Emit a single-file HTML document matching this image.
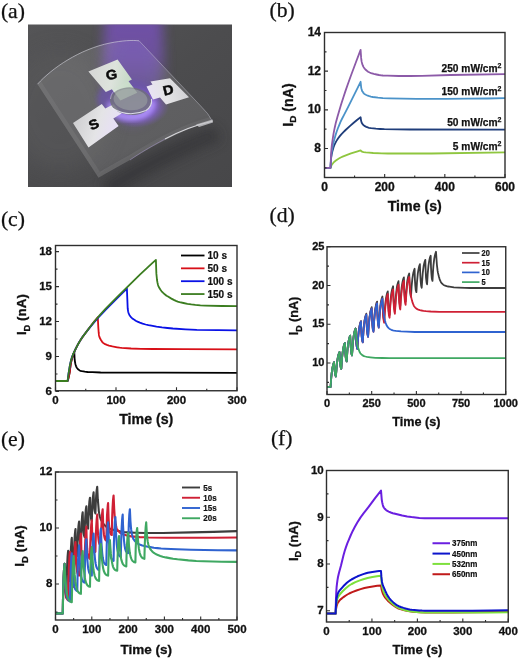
<!DOCTYPE html>
<html lang="en"><head><meta charset="utf-8"><title>Figure</title>
<style>html,body{margin:0;padding:0;background:#fff}body{width:520px;height:660px;overflow:hidden}svg{display:block}</style>
</head><body>
<svg width="520" height="660" viewBox="0 0 520 660">
<rect width="520" height="660" fill="#fff"/>
<defs>
<clipPath id="aclip"><rect x="28.0" y="24.5" width="204.0" height="162.5"/></clipPath>
<filter id="b1" x="-20%" y="-20%" width="140%" height="140%"><feGaussianBlur stdDeviation="1"/></filter>
<filter id="b2" x="-30%" y="-30%" width="160%" height="160%"><feGaussianBlur stdDeviation="2.5"/></filter>
<filter id="b5" x="-50%" y="-50%" width="200%" height="200%"><feGaussianBlur stdDeviation="6"/></filter>
<filter id="b9" x="-50%" y="-50%" width="200%" height="200%"><feGaussianBlur stdDeviation="10"/></filter>
<linearGradient id="abg" x1="0" y1="0" x2="1" y2="1"><stop offset="0" stop-color="#555557"/><stop offset="0.5" stop-color="#4c4c4e"/><stop offset="1" stop-color="#474749"/></linearGradient>
<linearGradient id="beamv" x1="0" y1="0" x2="0" y2="1"><stop offset="0" stop-color="#7b4fc6" stop-opacity="0.95"/><stop offset="0.55" stop-color="#7b55be" stop-opacity="0.85"/><stop offset="1" stop-color="#7b55be" stop-opacity="0"/></linearGradient>
<radialGradient id="glow" cx="0.5" cy="0.5" r="0.5"><stop offset="0" stop-color="#a884ff" stop-opacity="1"/><stop offset="0.55" stop-color="#8a63dc" stop-opacity="0.85"/><stop offset="1" stop-color="#7a58c0" stop-opacity="0"/></radialGradient>
<linearGradient id="padg" x1="0" y1="0" x2="1" y2="1"><stop offset="0" stop-color="#e4e6e2"/><stop offset="1" stop-color="#c9ccd0"/></linearGradient>
<linearGradient id="padG" x1="0" y1="0.3" x2="1" y2="0.5"><stop offset="0" stop-color="#d6d6d6"/><stop offset="0.5" stop-color="#dde3dc"/><stop offset="1" stop-color="#bcd6bd"/></linearGradient>
<linearGradient id="padS" x1="0" y1="0.2" x2="1" y2="0.5"><stop offset="0" stop-color="#cbcbcd"/><stop offset="0.55" stop-color="#e4e4e6"/><stop offset="1" stop-color="#e8defa"/></linearGradient>
<linearGradient id="padD" x1="0" y1="0.5" x2="1" y2="0.3"><stop offset="0" stop-color="#e9e2f6"/><stop offset="0.4" stop-color="#e4e4e6"/><stop offset="1" stop-color="#cfcfd3"/></linearGradient>
<clipPath id="sheetclip"><path d="M37.5,84.2 C52,68 80,49 110,43 C122,40.6 132,40 139.1,40.8 L200.7,106 Q209,114 212.4,121.2 C190,127 160,141 130,160 Q112,170 98.5,177.7 Z"/></clipPath>
</defs>
<g clip-path="url(#aclip)">
<rect x="28" y="24" width="205" height="164" fill="url(#abg)"/>
<ellipse cx="60" cy="110" rx="50" ry="60" fill="#5a5a5c" opacity="0.55" filter="url(#b9)"/>
<path d="M100,182 Q150,150 214,126 L222,140 Q160,165 110,200 Z" fill="#333335" opacity="0.65" filter="url(#b5)"/>
<path d="M105,16 H162 L166,90 H101 Z" fill="url(#beamv)" opacity="0.8" filter="url(#b5)"/>
<path d="M37.5,84.2 C52,68 80,49 110,43 C122,40.6 132,40 139.1,40.8 L200.7,106 Q209,114 212.4,121.2 C190,127 160,141 130,160 Q112,170 98.5,177.7 Z" fill="#ffffff" fill-opacity="0.115"/>
<g clip-path="url(#sheetclip)">
<ellipse cx="133" cy="78" rx="26" ry="46" fill="#7458b4" opacity="0.6" filter="url(#b5)"/>
<ellipse cx="127" cy="99" rx="30" ry="20" fill="#6c54ac" opacity="0.75" filter="url(#b2)"/>
<ellipse cx="136" cy="106.5" rx="33" ry="21" fill="url(#glow)"/>
<path d="M37.5,84.2 L98.5,177.7 Q112,170 130,160 C160,141 190,127 212.4,121.2" fill="none" stroke="#ffffff" stroke-opacity="0.06" stroke-width="9"/>
</g>
<path d="M37.5,84.2 C52,68 80,49 110,43 C122,40.6 132,40 139.1,40.8" fill="none" stroke="#d8d8e0" stroke-opacity="0.75" stroke-width="0.8"/>
<path d="M139.1,40.8 L200.7,106 Q209,114 212.4,121.2" fill="none" stroke="#d0d0dc" stroke-opacity="0.6" stroke-width="0.7"/>
<path d="M212.4,121.2 C195,125 180,131 165,139" fill="none" stroke="#ededf2" stroke-opacity="0.85" stroke-width="1.1"/>
<path d="M165,139 C150,147 140,153 130,160" fill="none" stroke="#b9a6e6" stroke-opacity="0.5" stroke-width="0.8"/>
<path d="M196,124.5 L212.6,119.5 L213,122.5 L199,127 Z" fill="#c8c8cc" opacity="0.8"/>
<path d="M109.5,103 Q113,118 132,117.5 Q151,116 153,101" fill="none" stroke="#b9a0ff" stroke-opacity="0.9" stroke-width="5" filter="url(#b2)"/>
<path d="M88.4,71.6 L117.6,59.6 L131.9,79.6 L128.5,81.2 L137.3,92.7 L120.4,100.4 L111.9,89.2 L105.8,91.9 Z" fill="url(#padG)"/>
<path d="M146.5,86.5 L152.5,84.5 L150.5,81.5 L170,78.2 L189,97.2 L166,104.5 L160,97.5 L153,99.5 Z" fill="url(#padD)"/>
<path d="M73,123 L101.8,104 L105.3,108.5 L113.5,104.2 L121.5,113.5 L113.3,118.6 L118.6,126 L88.5,147.5 Z" fill="url(#padS)"/>
<ellipse cx="130.8" cy="101.2" rx="20.8" ry="13.8" fill="#6f6f7a" fill-opacity="0.85" transform="rotate(4 130.8 101.2)"/>
<ellipse cx="130.5" cy="99.5" rx="17" ry="10.8" fill="#959a9e" fill-opacity="0.7" transform="rotate(4 130.5 99.5)"/>
<path d="M112,108 Q128,118 146,110.5 Q152.5,106 151.5,99" fill="none" stroke="#ececf4" stroke-opacity="0.85" stroke-width="1.1"/>
<path d="M110.5,99 Q111,92 117,89" fill="none" stroke="#e6e6f0" stroke-opacity="0.6" stroke-width="0.8"/>
<path d="M128.5,81.2 L137.3,92.7 L120.4,100.4 L111.9,89.2 Z" fill="#cfe4cf" opacity="0.3"/>
<g font-family='"Liberation Sans", Arial, sans-serif' font-weight="bold" font-size="13.5" fill="#0a0a0a" stroke="#0a0a0a" stroke-width="0.5" text-anchor="middle">
<text transform="translate(112,79.2) rotate(-8) scale(1.08,1)">G</text>
<text transform="translate(169.3,94.6) rotate(-14) scale(1.08,1)">D</text>
<text transform="translate(95.8,128.6) rotate(-24) scale(1.08,1)">S</text>
</g>
</g>
<path d="M324.5,167.8 330.5,167.8 331.1,166.3 331.5,165.4 332.3,164.1 333.2,163 334.4,161.7 335.9,160.5 337.4,159.4 338.9,158.5 340.7,157.5 342.6,156.7 347.1,154.9 351,153.4 354.3,152.3 357.6,151.3 360.6,150.4 361.4,151.3 361.7,151.5 362,151.7 363.5,152.1 365.7,152.4 369,152.7 373.2,153 381.7,153.3 388,153.5 421.7,153.5 431.6,153.5 505,152.4" fill="none" stroke="#8fc63f" stroke-width="1.8" stroke-linejoin="round" />
<path d="M324.5,167.8 330.5,167.8 330.9,161.2 331.1,158.2 331.7,154.4 332.4,151.2 333.5,147.5 334.1,145.7 334.7,144.3 336.2,141.4 337.1,139.9 338,138.5 339.8,136.1 341.3,134.3 343.2,132.4 345.6,130 350.4,125.6 353.7,122.7 357.3,119.7 360.6,117.2 361.1,120.8 361.7,122.7 362.2,123.6 362.6,124.2 363.3,125 364,125.6 364.9,126.2 366.3,126.8 367.8,127.4 369,127.8 371.1,128.2 375.9,128.7 380.2,129 384.4,129.2 397.3,129.4 409.9,129.5 505,129.6" fill="none" stroke="#1f3d7a" stroke-width="1.8" stroke-linejoin="round" />
<path d="M324.5,167.8 330.5,167.8 330.9,160.7 331.1,157.2 331.5,153.4 332,150.2 333,144.8 334.1,140.2 335.3,135.9 336.8,131.3 338,128 339.2,125.1 340.4,122.2 341.9,119 343.8,115.3 348.3,106.6 360.6,81.8 361.1,86.8 361.3,88.2 361.7,89.6 362,90.7 362.5,91.6 363.2,92.6 364,93.6 364.9,94.3 366.3,95 367.8,95.7 369.3,96.2 370.8,96.6 372.9,97 378,97.7 382.9,98.2 389.5,98.4 403,98.7 416.6,98.8 445.7,98.8 468,98.7 487.3,98.5 505,98.2" fill="none" stroke="#4b93c9" stroke-width="1.8" stroke-linejoin="round" />
<path d="M324.5,167.8 330.5,167.8 331.1,154.3 331.4,149.5 331.8,145.4 332.7,139.2 333.5,133.9 334.7,127.7 335.9,122.4 337.4,116.9 341,104.8 343.5,97 345.6,90.6 348,83.8 350.7,76.3 356.1,61.7 360.6,49.9 361.1,57.4 361.3,59.5 361.7,61.9 362.2,63.9 362.8,65.5 363.6,67.1 364.4,68.4 365.4,69.5 366.9,70.8 368.1,71.7 369.6,72.5 371.1,73.1 373.8,73.9 376.5,74.5 379,75 381.1,75.3 382.9,75.5 387.4,75.7 398.8,76 409.9,76 422,75.8 450.2,75 505,74.1" fill="none" stroke="#8c5aa8" stroke-width="1.8" stroke-linejoin="round" />
<path d="M324.5,177.5 v-3.5 M384.67,177.5 v-3.5 M444.83,177.5 v-3.5 M505,177.5 v-3.5 M354.58,177.5 v-2 M414.75,177.5 v-2 M474.92,177.5 v-2 M324.5,148.5 h3.5 M324.5,109.83 h3.5 M324.5,71.17 h3.5 M324.5,32.5 h3.5 M324.5,167.83 h2 M324.5,129.17 h2 M324.5,90.5 h2 M324.5,51.83 h2" stroke="#2e2e2e" stroke-width="1.1" fill="none"/>
<rect x="324.5" y="32.5" width="180.5" height="145" fill="none" stroke="#2e2e2e" stroke-width="1.4"/>
<g font-family='"Liberation Sans", Arial, sans-serif' font-weight="bold" font-size="12" fill="#111" stroke="#111" stroke-width="0.3">
<text x="324.5" y="191" text-anchor="middle">0</text>
<text x="384.67" y="191" text-anchor="middle">200</text>
<text x="444.83" y="191" text-anchor="middle">400</text>
<text x="505" y="191" text-anchor="middle">600</text>
<text x="321" y="151.98" text-anchor="end">8</text>
<text x="321" y="113.31" text-anchor="end">10</text>
<text x="321" y="74.65" text-anchor="end">12</text>
<text x="321" y="35.98" text-anchor="end">14</text>
</g>
<text x="414.75" y="211" text-anchor="middle" font-family='"Liberation Sans", Arial, sans-serif' font-weight="bold" font-size="14.2" fill="#111" stroke="#111" stroke-width="0.3">Time (s)</text>
<text transform="translate(292.5,105) rotate(-90)" text-anchor="middle" font-family='"Liberation Sans", Arial, sans-serif' font-weight="bold" font-size="14.2" fill="#111" stroke="#111" stroke-width="0.3">I<tspan font-size="9.94" dy="3.5">D</tspan><tspan dy="-3.5"> (nA)</tspan></text>
<g font-family='"Liberation Sans", Arial, sans-serif' font-weight="bold" font-size="10.2" fill="#111" stroke="#111" stroke-width="0.25" text-anchor="end">
<text x="501.5" y="71.5">250 mW/cm<tspan font-size="7" dy="-4">2</tspan></text>
<text x="501.5" y="95">150 mW/cm<tspan font-size="7" dy="-4">2</tspan></text>
<text x="501.5" y="126">50 mW/cm<tspan font-size="7" dy="-4">2</tspan></text>
<text x="501.5" y="150">5 mW/cm<tspan font-size="7" dy="-4">2</tspan></text>
</g>
<path d="M55.5,381 67.6,381 68,380 68.3,378.7 69.3,374.3 69.7,372.1 70.6,364.9 71.5,360.4 72.1,358.2 72.7,356.2 73.4,354.1 74.3,352 74.6,358.6 75,361.8 75.3,363.5 75.6,364.7 76.1,366.3 76.7,367.5 77.2,368.2 78,369.2 78.9,369.9 79.7,370.5 80.5,370.8 82.1,371.2 84.8,371.7 87.6,372 92.4,372.2 100.6,372.5 162.6,372.7 237,372.8" fill="none" stroke="#000000" stroke-width="1.8" stroke-linejoin="round" />
<path d="M55.5,381 67.6,381 68,380 68.3,378.7 69.3,374.3 69.7,372.1 70.6,364.9 71.2,361.8 71.8,359.2 72.6,356.6 73.3,354.3 74.5,351.5 75.8,348.7 77.3,345.6 79,342.6 80.6,339.9 82.4,337.2 87,331 90.6,326.2 94.2,321.6 97.8,317.3 98.3,327.4 98.7,332.7 98.9,334.7 99.1,335.7 99.5,337.2 100,338.3 101.1,340.2 102,341.6 102.8,342.6 103.7,343.3 105.1,344.2 106.9,344.9 109,345.6 112.4,346.4 117.2,347.3 119.6,347.7 121.7,347.9 131.1,348.5 140.8,348.8 152.6,349 182.6,349.2 237,349.3" fill="none" stroke="#d81018" stroke-width="1.8" stroke-linejoin="round" />
<path d="M55.5,381 67.6,381 68.4,374.4 69.7,366.6 70.5,362.5 71.6,358.4 72.2,356.6 72.9,354.8 75.6,349 78.1,344.1 79.3,342 80.6,339.9 82.1,337.6 83.6,335.5 88.5,329.1 93,323.6 98.2,317.7 101.8,313.8 106.3,309.1 117.5,297.8 126.9,288.5 127.3,298.6 127.7,308.5 127.9,309.8 128.1,311.2 128.4,312.5 128.7,313.4 129.4,314.9 130.3,316.3 131.2,317.4 132.3,318.4 134,319.6 135.7,320.7 137.5,321.6 139.9,322.6 142.6,323.6 145.6,324.5 148.4,325.2 151.4,325.7 156.5,326.6 162,327.4 167.4,328 172.9,328.5 185.6,329.3 196.8,329.8 218.5,330.2 237,330.3" fill="none" stroke="#0a12e6" stroke-width="1.8" stroke-linejoin="round" />
<path d="M55.5,381 67.6,381 68.5,374 69.8,365.9 70.9,361 71.5,358.8 72.1,357 73,354.5 74.6,351.1 76.3,347.6 77.9,344.5 79.2,342.2 80.6,339.9 82.1,337.6 83.9,335.1 90,327 95.1,320.5 100,314.8 105.7,308.6 117.8,296.3 135.1,279.3 139.9,274.7 146.9,268.1 151.7,263.7 155.9,259.9 156.3,271.6 156.4,273.9 156.7,276.8 157,280 157.4,282.2 157.9,284.5 158.5,286.4 159.4,288.1 160.5,289.8 161.6,291.3 163.2,292.9 164.7,294.3 166.5,295.7 168,296.6 171.4,298.6 173.8,299.9 175.9,300.9 177.7,301.6 179.5,302.2 183.5,303 187.4,303.8 191.3,304.4 195.3,304.9 200.4,305.4 205.2,305.6 221.9,306 237,306.1" fill="none" stroke="#3b7d20" stroke-width="1.8" stroke-linejoin="round" />
<path d="M55.5,390.75 v-3.5 M116,390.75 v-3.5 M176.5,390.75 v-3.5 M237,390.75 v-3.5 M85.75,390.75 v-2 M146.25,390.75 v-2 M206.75,390.75 v-2 M55.5,391.45 h3.5 M55.5,356.51 h3.5 M55.5,321.56 h3.5 M55.5,286.62 h3.5 M55.5,251.67 h3.5 M55.5,373.98 h2 M55.5,339.03 h2 M55.5,304.09 h2 M55.5,269.15 h2" stroke="#2e2e2e" stroke-width="1.1" fill="none"/>
<rect x="55.5" y="245.5" width="181.5" height="145.25" fill="none" stroke="#2e2e2e" stroke-width="1.4"/>
<g font-family='"Liberation Sans", Arial, sans-serif' font-weight="bold" font-size="11.5" fill="#111" stroke="#111" stroke-width="0.3">
<text x="55.5" y="404.25" text-anchor="middle">0</text>
<text x="116" y="404.25" text-anchor="middle">100</text>
<text x="176.5" y="404.25" text-anchor="middle">200</text>
<text x="237" y="404.25" text-anchor="middle">300</text>
<text x="52" y="394.78" text-anchor="end">6</text>
<text x="52" y="359.84" text-anchor="end">9</text>
<text x="52" y="324.9" text-anchor="end">12</text>
<text x="52" y="289.95" text-anchor="end">15</text>
<text x="52" y="255.01" text-anchor="end">18</text>
</g>
<text x="146.25" y="423.75" text-anchor="middle" font-family='"Liberation Sans", Arial, sans-serif' font-weight="bold" font-size="14.2" fill="#111" stroke="#111" stroke-width="0.3">Time (s)</text>
<text transform="translate(26,314.62) rotate(-90)" text-anchor="middle" font-family='"Liberation Sans", Arial, sans-serif' font-weight="bold" font-size="13.4" fill="#111" stroke="#111" stroke-width="0.3">I<tspan font-size="9.38" dy="3.5">D</tspan><tspan dy="-3.5"> (nA)</tspan></text>
<g font-family='"Liberation Sans", Arial, sans-serif' font-weight="bold" font-size="10" fill="#111" stroke="#111" stroke-width="0.2">
<path d="M181,255.5 H204.5" stroke="#000" stroke-width="1.8"/>
<text x="207.5" y="259">10 s</text>
<path d="M181,268.35 H204.5" stroke="#d81018" stroke-width="1.8"/>
<text x="207.5" y="271.85">50 s</text>
<path d="M181,281.2 H204.5" stroke="#0a12e6" stroke-width="1.8"/>
<text x="207.5" y="284.7">100 s</text>
<path d="M181,294.05 H204.5" stroke="#3b7d20" stroke-width="1.8"/>
<text x="207.5" y="297.55">150 s</text>
</g>
<path d="M327,386.9 330.6,386.9 331.2,378 331.6,374.2 332,370.6 332.5,367.8 333,365.4 333.5,363.6 334.1,362.2 334.5,368.8 334.9,372.5 335.3,375 335.6,375.8 335.9,376.5 336.6,367.6 336.9,363.9 337.4,360.3 337.8,357.6 338.4,355.1 338.9,353.4 339.5,352 339.9,359.8 340.2,364.1 340.7,367.1 340.9,368 341.3,368.8 341.9,359.5 342.3,355.6 342.7,351.8 343.2,348.9 343.7,346.3 344.2,344.5 344.9,343 345.2,351.5 345.6,356.3 346,359.5 346.3,360.6 346.7,361.4 347.3,352.2 347.6,348.3 348.1,344.5 348.5,341.6 349.1,339 349.6,337.2 350.2,335.7 350.6,344.8 351,349.9 351.4,353.3 351.7,354.5 352,355.4 352.7,345.7 353,341.6 353.5,337.6 353.9,334.6 354.4,332 355,330.1 355.6,328.5 356,338 356.3,343.4 356.8,346.9 357,348.1 357.4,349 358,339 358.4,334.7 358.8,330.6 359.3,327.5 359.8,324.7 360.3,322.7 361,321.1 361.3,330.7 361.7,336.1 362.1,339.7 362.4,340.9 362.8,341.9 363.4,331.7 363.7,327.4 364.2,323.3 364.6,320.1 365.2,317.3 365.7,315.3 366.3,313.7 366.7,324 367,329.8 367.5,333.7 367.8,335 368.1,336 368.7,325.6 369.1,321.2 369.5,317 370,313.8 370.5,310.9 371.1,308.9 371.7,307.2 372,317.9 372.4,324 372.8,328 373.1,329.4 373.5,330.5 374.1,320 374.5,315.7 374.9,311.4 375.4,308.2 375.9,305.3 376.4,303.2 377.1,301.6 377.4,312.9 377.8,319.2 378.2,323.4 378.5,324.8 378.8,326 379.5,315.3 379.8,310.9 380.3,306.5 380.7,303.2 381.3,300.3 381.8,298.2 382.4,296.5 382.8,307.6 383.1,313.9 383.6,318 383.8,319.4 384.2,320.5 384.8,310 385.2,305.6 385.6,301.3 386.1,298 386.6,295.2 387.1,293.1 387.8,291.4 388.1,302.3 388.5,308.5 388.9,312.6 389.2,313.9 389.6,315 390.2,304.7 390.5,300.3 391,296.1 391.4,292.9 392,290 392.5,288 393.1,286.3 393.5,297.6 393.9,304 394.3,308.2 394.6,309.6 394.9,310.7 395.6,300.1 395.9,295.6 396.4,291.3 396.8,288 397.3,285 397.9,282.9 398.5,281.2 398.9,292.7 399.2,299.2 399.7,303.4 399.9,304.9 400.3,306 400.9,295.7 401.3,291.3 401.7,287.1 402.2,283.9 402.7,281.1 403.2,279 403.9,277.4 404.2,288.5 404.6,294.7 405,298.9 405.3,300.3 405.6,301.4 406.3,291.3 407,283.7 407.3,281 407.8,278.3 408.3,276 408.9,274.3 409.2,273.5 409.6,284.2 410,291.3 410.5,294.8 410.7,296 411,296.7 411.6,286.7 412,282.4 412.4,278.3 412.9,275.2 413.4,272.4 414,270.4 414.6,268.8 414.9,279.6 415.3,285.6 415.7,289.7 416,291 416.4,292.1 417,282 417.4,277.8 417.8,273.7 418.3,270.5 418.8,267.8 419.3,265.8 419.9,264.2 420.3,275.1 420.7,281.3 421.1,285.4 421.4,286.7 421.7,287.8 422.4,277.7 422.7,273.5 423.2,269.4 423.6,266.3 424.2,263.5 424.7,261.5 425.3,259.9 425.7,271.2 426,277.6 426.5,281.8 426.7,283.2 427.1,284.3 427.7,274 428.1,269.6 428.5,265.4 429,262.2 429.5,259.4 430,257.3 430.7,255.7 431,267.3 431.4,273.9 431.8,278.2 432.1,279.7 432.5,280.9 433.1,270.3 433.4,265.9 433.9,261.7 434.3,258.4 434.9,255.5 435.4,253.5 436,251.8 436.6,260.5 436.9,264.8 437.6,270.7 438,272.9 438.4,274.6 439,277 439.6,279.1 440.2,280.7 440.8,281.9 441.4,282.8 442.4,283.9 443.3,284.7 444.2,285.2 445.2,285.7 446.5,286.1 447.8,286.5 449.3,286.7 453.9,287.3 458.6,287.6 465,287.9 470.4,288 505.8,288" fill="none" stroke="#3d3d3d" stroke-width="1.8" stroke-linejoin="round" />
<path d="M327,386.9 330.6,386.9 331.2,378 331.6,374.2 332,370.6 332.5,367.8 333,365.4 333.5,363.6 334.1,362.2 334.5,368.8 334.9,372.5 335.3,375 335.6,375.8 335.9,376.5 336.6,367.6 336.9,363.9 337.4,360.3 337.8,357.6 338.4,355.1 338.9,353.4 339.5,352 339.9,359.8 340.2,364.1 340.7,367.1 340.9,368 341.3,368.8 341.9,359.5 342.3,355.6 342.7,351.8 343.2,348.9 343.7,346.3 344.2,344.5 344.9,343 345.2,351.5 345.6,356.3 346,359.5 346.3,360.6 346.7,361.4 347.3,352.2 347.6,348.3 348.1,344.5 348.5,341.6 349.1,339 349.6,337.2 350.2,335.7 350.6,344.8 351,349.9 351.4,353.3 351.7,354.5 352,355.4 352.7,345.7 353,341.6 353.5,337.6 353.9,334.6 354.4,332 355,330.1 355.6,328.5 356,338 356.3,343.4 356.8,346.9 357,348.1 357.4,349 358,339.1 358.4,334.9 358.8,330.9 359.3,327.8 359.8,325.1 360.3,323.1 361,321.5 361.3,331.1 361.7,336.5 362.1,340.1 362.4,341.3 362.8,342.3 363.4,332.3 363.7,328.1 364.2,324 364.6,320.9 365.2,318.1 365.7,316.2 366.3,314.6 366.7,324.9 367,330.7 367.5,334.5 367.8,335.8 368.1,336.9 368.7,326.6 369.1,322.3 369.5,318.1 370,315 370.5,312.2 371.1,310.2 371.7,308.5 372,319.3 372.4,325.3 372.8,329.3 373.1,330.7 373.5,331.8 374.1,321.5 374.5,317.2 374.9,313 375.4,309.8 375.9,307 376.4,305 377.1,303.3 377.4,314.6 377.8,321 378.2,325.2 378.5,326.6 378.8,327.7 379.5,317.2 380.2,309.3 380.5,306.5 381,303.7 381.5,301.3 382.1,299.6 382.4,298.7 382.8,309.8 383.2,317.1 383.7,320.7 383.9,321.9 384.2,322.7 384.7,313.6 385.4,306.2 386.1,300.6 386.4,298.6 386.9,296.6 387.3,295.1 387.8,294 388.1,304.9 388.5,311.1 388.9,315.2 389.2,316.6 389.6,317.7 390.2,307.4 390.5,303.2 391,299 391.4,295.8 392,293 392.5,291 393.1,289.4 393.5,300.6 393.9,307 394.3,311.2 394.6,312.6 394.9,313.8 395.6,303.3 395.9,298.9 396.4,294.6 396.8,291.3 397.3,288.5 397.9,286.4 398.5,284.7 398.9,296.2 399.2,302.6 399.7,306.9 399.9,308.4 400.3,309.5 400.9,299.2 401.3,294.8 401.7,290.6 402.2,287.4 402.7,284.5 403.2,282.5 403.9,280.8 404.2,291.9 404.6,298.2 405,302.4 405.3,303.7 405.6,304.9 406.3,294.8 406.6,290.6 407.1,286.4 407.5,283.3 408.1,280.6 408.6,278.6 409.2,277 409.9,286.6 410.3,291.1 410.7,293.9 411.1,296.8 411.5,298.6 412,300.6 412.6,302.7 413.2,304.2 413.8,305.6 414.3,306.5 415.3,307.6 416.3,308.5 417.3,309.2 418.3,309.6 419.9,310.1 421.7,310.5 423.5,310.8 426,311.1 430.7,311.5 439.3,311.8 444.6,311.8 505.8,311.9" fill="none" stroke="#cf2035" stroke-width="1.8" stroke-linejoin="round" />
<path d="M327,386.9 330.6,386.9 331.2,378 331.6,374.2 332,370.6 332.5,367.8 333,365.4 333.5,363.6 334.1,362.2 334.5,368.8 334.9,372.5 335.3,375 335.6,375.8 335.9,376.5 336.6,367.6 336.9,363.9 337.4,360.3 337.8,357.6 338.4,355.1 338.9,353.4 339.5,352 339.9,359.8 340.2,364.1 340.7,367.1 340.9,368 341.3,368.8 341.9,359.5 342.3,355.6 342.7,351.8 343.2,348.9 343.7,346.3 344.2,344.5 344.9,343 345.2,351.5 345.6,356.3 346,359.5 346.3,360.6 346.7,361.4 347.3,352.2 347.6,348.3 348.1,344.5 348.5,341.6 349.1,339 349.6,337.2 350.2,335.7 350.6,344.8 351,349.9 351.4,353.3 351.7,354.5 352,355.4 352.7,345.7 353,341.6 353.5,337.6 353.9,334.6 354.4,332 355,330.1 355.6,328.5 356,338 356.3,343.4 356.8,346.9 357,348.1 357.4,349 358,339.1 358.4,334.9 358.8,330.9 359.3,327.8 359.8,325.1 360.3,323.1 361,321.5 361.3,331.1 361.7,336.5 362.1,340.1 362.4,341.3 362.8,342.3 363.4,332.3 363.7,328.1 364.2,324 364.6,320.9 365.2,318.1 365.7,316.2 366.3,314.6 366.7,324.9 367,330.7 367.5,334.5 367.8,335.8 368.1,336.9 368.7,326.6 369.1,322.3 369.5,318.1 370,315 370.5,312.2 371.1,310.2 371.7,308.5 372,319.3 372.4,325.3 372.8,329.3 373.1,330.7 373.5,331.8 374.1,321.5 374.5,317.2 374.9,313 375.4,309.8 375.9,307 376.4,305 377.1,303.3 377.4,314.6 377.8,321 378.2,325.2 378.5,326.6 378.8,327.7 379.5,317.2 379.8,312.8 380.3,308.5 380.7,305.3 381.3,302.4 381.8,300.4 382.4,298.7 383.1,308.9 383.8,314.3 384.1,316.6 384.6,318.9 385.1,321 385.7,323 386.3,324.7 387,326 387.5,326.9 388.4,327.9 389.3,328.7 390.3,329.3 391.3,329.8 392.9,330.3 394.2,330.6 396,330.9 401,331.4 406.4,331.7 414.9,332 505.8,332" fill="none" stroke="#2f63d0" stroke-width="1.8" stroke-linejoin="round" />
<path d="M327,386.9 330.6,386.9 331.2,378 331.6,374.2 332,370.6 332.5,367.8 333,365.4 333.5,363.6 334.1,362.2 334.5,368.8 334.9,372.5 335.3,375 335.6,375.8 335.9,376.5 336.6,367.6 336.9,363.9 337.4,360.3 337.8,357.6 338.4,355.1 338.9,353.4 339.5,352 339.9,359.8 340.2,364.1 340.7,367.1 340.9,368 341.3,368.8 341.9,359.5 342.3,355.6 342.7,351.8 343.2,348.9 343.7,346.3 344.2,344.5 344.9,343 345.2,351.5 345.6,356.3 346,359.5 346.3,360.6 346.7,361.4 347.3,352.2 347.6,348.3 348.1,344.5 348.5,341.6 349.1,339 349.6,337.2 350.2,335.7 350.6,344.8 351,349.9 351.4,353.3 351.7,354.5 352,355.4 352.7,345.7 353,341.6 353.5,337.6 353.9,334.6 354.4,332 355,330.1 355.6,328.5 356.3,337.6 357,343 357.4,345 357.8,346.9 358.5,348.9 359.2,350.9 359.8,352.3 360.4,353.3 361.2,354.2 362.2,355.1 363.1,355.6 364,356.1 365.4,356.5 367,356.9 370.3,357.3 375.3,357.8 382.4,358 389.2,358.2 505.8,358.2" fill="none" stroke="#3fa862" stroke-width="1.8" stroke-linejoin="round" />
<path d="M327,394.5 v-3.5 M371.69,394.5 v-3.5 M416.38,394.5 v-3.5 M461.06,394.5 v-3.5 M505.75,394.5 v-3.5 M349.34,394.5 v-2 M394.03,394.5 v-2 M438.72,394.5 v-2 M483.41,394.5 v-2 M327,363 h3.5 M327,324.25 h3.5 M327,285.5 h3.5 M327,246.75 h3.5 M327,382.38 h2 M327,343.62 h2 M327,304.88 h2 M327,266.12 h2" stroke="#2e2e2e" stroke-width="1.1" fill="none"/>
<rect x="327" y="246.75" width="178.75" height="147.75" fill="none" stroke="#2e2e2e" stroke-width="1.4"/>
<g font-family='"Liberation Sans", Arial, sans-serif' font-weight="bold" font-size="11" fill="#111" stroke="#111" stroke-width="0.3">
<text x="327" y="407" text-anchor="middle">0</text>
<text x="371.69" y="407" text-anchor="middle">250</text>
<text x="416.38" y="407" text-anchor="middle">500</text>
<text x="461.06" y="407" text-anchor="middle">750</text>
<text x="505.75" y="407" text-anchor="middle">1000</text>
<text x="324.4" y="366.19" text-anchor="end">10</text>
<text x="324.4" y="327.44" text-anchor="end">15</text>
<text x="324.4" y="288.69" text-anchor="end">20</text>
<text x="324.4" y="249.94" text-anchor="end">25</text>
</g>
<text x="416.38" y="426.2" text-anchor="middle" font-family='"Liberation Sans", Arial, sans-serif' font-weight="bold" font-size="12.6" fill="#111" stroke="#111" stroke-width="0.3">Time (s)</text>
<text transform="translate(298,316.02) rotate(-90)" text-anchor="middle" font-family='"Liberation Sans", Arial, sans-serif' font-weight="bold" font-size="12.6" fill="#111" stroke="#111" stroke-width="0.3">I<tspan font-size="8.82" dy="3.5">D</tspan><tspan dy="-3.5"> (nA)</tspan></text>
<g font-family='"Liberation Sans", Arial, sans-serif' font-weight="bold" font-size="8.4" fill="#111" stroke="#111" stroke-width="0.2">
<path d="M462,253 H479.5" stroke="#3d3d3d" stroke-width="1.7"/>
<text transform="translate(481.5,256) scale(0.89,1)">20</text>
<path d="M462,262.7 H479.5" stroke="#cf2035" stroke-width="1.7"/>
<text transform="translate(481.5,265.7) scale(0.89,1)">15</text>
<path d="M462,272.4 H479.5" stroke="#2f63d0" stroke-width="1.7"/>
<text transform="translate(481.5,275.4) scale(0.89,1)">10</text>
<path d="M462,282.1 H479.5" stroke="#3fa862" stroke-width="1.7"/>
<text transform="translate(481.5,285.1) scale(0.89,1)">5</text>
</g>
<path d="M55.5,613.4 62.8,613.4 63.1,593.2 63.5,580.4 64,569.9 64.3,566.3 64.6,563.8 64.9,577.9 65.2,588 65.4,591.6 65.7,594.7 66,596.6 66.4,598 66.8,578.7 67.1,566.5 67.6,556.5 67.9,553.1 68.2,550.7 68.5,563.2 68.9,572.2 69.1,575.5 69.4,578.3 69.7,580 70,581.2 70.4,563.5 70.7,552.3 71.3,543.1 71.5,540 71.8,537.8 72.1,549.9 72.5,558.6 72.7,561.7 73,564.4 73.3,566 73.7,567.2 74,551.7 74.4,541.9 74.9,533.8 75.2,531 75.5,529.1 75.8,540.2 76.1,548.1 76.3,551 76.6,553.4 76.9,554.9 77.3,556 77.6,542 78,533.1 78.5,525.8 78.8,523.3 79.1,521.6 79.4,531.7 79.7,539 80,541.6 80.3,543.8 80.5,545.2 80.9,546.2 81.3,532.4 81.6,523.6 82.1,516.5 82.4,514 82.7,512.3 83,522.5 83.4,529.7 83.6,532.3 83.9,534.6 84.2,536 84.5,537 84.9,524.4 85.3,516.5 85.8,509.9 86.1,507.7 86.4,506.2 86.6,515.4 87,522 87.2,524.4 87.5,526.4 87.8,527.7 88.2,528.6 88.5,516 88.9,508.1 89.4,501.5 89.7,499.3 90,497.8 90.3,507.3 90.6,514.2 90.9,516.6 91.1,518.8 91.4,520.1 91.8,521 92.1,511.3 92.5,503.2 92.8,498.1 93.3,494.3 93.6,492.4 93.9,501.1 94.3,507.3 94.5,509.5 94.8,511.4 95.1,512.6 95.4,513.4 95.8,502.6 96.2,495.7 96.7,490.1 97,488.2 97.2,486.8 97.8,499.2 98.6,508.5 98.8,511.1 99.2,513.4 99.8,516.2 100.4,518.3 100.7,519.3 101.1,520 102.5,522.5 103.7,524.2 105,525.6 106.2,526.7 107.6,527.6 109.5,528.4 111.6,529.2 113.9,529.9 119.8,531.3 121.9,531.8 124.1,532.1 128.5,532.4 135,532.7 145.9,533 153.1,533 162.6,533 190.9,532.4 213.4,531.9 237,531.1" fill="none" stroke="#3d3d3d" stroke-width="2.1" stroke-linejoin="round" />
<path d="M55.5,613.4 62.8,613.4 63.1,593.2 63.5,580.4 64,569.9 64.3,566.3 64.6,563.8 65.1,581.2 65.4,588.3 65.8,592.8 66.2,596.1 66.8,598.2 67,599 67.4,599.6 67.8,600 68.2,600.2 68.6,580.5 68.9,568 69.4,557.8 69.7,554.2 70,551.8 70.5,568.5 70.9,575.3 71.3,579.6 71.7,582.8 72.2,584.9 72.5,585.6 72.9,586.2 73.2,586.5 73.7,586.8 74,568.6 74.4,557 74.9,547.5 75.2,544.3 75.5,542 76,558 76.3,564.6 76.7,568.7 77.1,571.8 77.6,573.7 77.9,574.4 78.3,575 78.7,575.3 79.1,575.6 79.5,558.5 79.8,547.6 80.3,538.8 80.6,535.7 80.9,533.6 81.4,549.3 81.8,555.8 82.1,559.9 82.6,562.9 83.1,564.8 83.4,565.5 83.7,566 84.1,566.4 84.5,566.6 84.9,550.3 85.3,540 85.7,532.4 86,529.2 86.3,527 86.4,526.6 86.6,536.5 86.9,543.4 87.2,548.2 87.6,552.2 88,555.1 88.5,557 88.8,557.7 89.2,558.2 89.5,558.5 90,558.8 90.3,543.1 90.7,533.1 91.2,524.9 91.5,522.1 91.8,520.2 92.2,533.6 92.5,539.3 92.8,543.2 93.2,546.5 93.5,548.5 94,550 94.5,551 94.9,551.5 95.4,551.8 95.8,536.6 96.2,527 96.7,519.1 97,516.4 97.2,514.6 97.8,529.3 98.1,535.4 98.5,539.3 98.9,542.1 99.4,543.9 99.7,544.5 100.1,545.1 100.4,545.4 100.9,545.6 101.2,530.8 101.6,521.4 102.1,513.7 102.4,511.1 102.7,509.2 103.2,524.2 103.6,530.3 103.9,534.2 104.4,537 104.9,538.9 105.2,539.5 105.5,540 105.9,540.4 106.3,540.6 106.7,525.3 107,515.6 107.6,507.7 107.8,505 108.1,503.1 108.6,518.3 109,524.5 109.4,528.5 109.8,531.4 110.3,533.2 110.6,533.9 111,534.4 111.3,534.8 111.8,535 112.1,518.9 112.5,508.7 113,500.4 113.3,497.5 113.6,495.5 114.2,508.8 114.7,516.8 115.3,522 115.9,525.1 116.4,527.3 116.8,528.6 117.2,529.4 118.3,530.9 119.4,532.1 120.3,532.9 121.4,533.6 122.6,534.1 124.4,534.8 126.1,535.3 127.9,535.8 129.7,536.1 131.5,536.4 139.7,537.1 144.1,537.3 148.4,537.5 166.6,537.7 185.5,537.8 213,537.7 237,537.5" fill="none" stroke="#cf2035" stroke-width="2.1" stroke-linejoin="round" />
<path d="M55.5,613.4 62.8,613.4 63.1,593.2 63.5,580.4 64,569.9 64.3,566.3 64.6,563.8 64.9,573.8 65.4,582.3 65.9,589 66.4,593.4 66.7,595.2 67,596.9 67.4,598.2 67.8,599.1 68.2,599.9 68.7,600.6 69.3,601 70,601.4 70.4,581.7 70.7,569.3 71.3,559.1 71.5,555.6 71.8,553.2 72.2,563.2 72.6,571.8 73.1,578.6 73.7,583 73.9,584.8 74.3,586.5 74.7,587.8 75,588.8 75.5,589.6 76,590.2 76.6,590.7 77.3,591 77.6,572.4 78,560.6 78.5,551 78.8,547.7 79.1,545.4 79.5,555.2 79.9,563.7 80.4,570.4 80.9,574.7 81.2,576.5 81.6,578.2 81.9,579.5 82.3,580.4 82.7,581.2 83.2,581.8 83.8,582.3 84.5,582.6 84.9,564.9 85.3,553.7 85.8,544.5 86.1,541.4 86.4,539.2 86.6,547.1 87,554.7 87.4,560.2 87.8,565 88.2,568.4 88.8,571 89,572.1 89.4,573.1 89.8,573.9 90.1,574.4 90.9,575.1 91.3,575.4 91.8,575.6 92.2,558.5 92.5,547.6 93,538.8 93.3,535.7 93.6,533.6 94,543.2 94.4,551.5 94.9,558 95.4,562.3 95.7,564 96.1,565.7 96.4,566.9 96.8,567.8 97.2,568.6 97.8,569.2 98.3,569.7 99.1,570 99.4,553.1 99.8,542.4 100.3,533.7 100.6,530.6 100.9,528.6 101.2,538.2 101.7,546.5 102.2,553 102.7,557.3 103,559 103.3,560.7 103.7,561.9 104.1,562.8 104.5,563.6 105,564.2 105.6,564.6 106.3,565 106.7,547.6 107,536.6 107.6,527.6 107.8,524.5 108.1,522.4 108.5,532.5 108.9,541.3 109.4,548.1 109.9,552.7 110.2,554.5 110.6,556.2 111,557.5 111.3,558.5 111.8,559.3 112.3,559.9 112.9,560.4 113.6,560.8 113.9,543 114.3,531.7 114.8,522.4 115.1,519.3 115.4,517.1 115.8,527.6 116.2,536.6 116.7,543.8 117.2,548.4 117.5,550.3 117.9,552.1 118.2,553.5 118.6,554.5 119,555.3 119.5,556 120.1,556.5 120.8,556.8 121.2,539.6 121.6,528.7 122.1,519.8 122.4,516.7 122.7,514.6 123,524.8 123.5,533.6 124,540.5 124.5,545 124.8,546.9 125.1,548.6 125.5,549.9 125.8,550.9 126.3,551.7 126.8,552.4 127.4,552.9 128.1,553.2 128.5,535.3 128.8,523.9 129.3,514.6 129.6,511.5 129.9,509.2 130.4,520.5 130.9,527 131.2,529.7 131.6,532.2 132.1,534.8 132.7,537 133.1,538.3 133.5,539.2 134.6,540.7 135.7,541.9 136.7,542.8 137.7,543.6 138.8,544.1 140.3,544.8 142.3,545.5 144.4,546 146.8,546.5 150.2,547.1 153.9,547.7 157.5,548.1 161.1,548.5 164.8,548.7 177.1,549.3 190.9,549.7 217.8,550.2 237,550.4" fill="none" stroke="#2f63d0" stroke-width="2.1" stroke-linejoin="round" />
<path d="M55.5,613.4 62.8,613.4 63.1,593.2 63.5,580.4 64,569.9 64.3,566.3 64.6,563.8 65.1,574.4 65.7,583 66.3,589.6 66.7,592.2 67,594.3 67.4,596 67.8,597.6 68.4,599 68.9,600 69.4,600.8 70.1,601.4 70.9,601.9 71.8,602.2 72.2,583.4 72.6,571.4 73.1,561.7 73.4,558.3 73.7,556 74.2,566.4 74.7,574.9 75.4,581.4 75.8,584 76.1,586.1 76.5,587.7 76.9,589.3 77.4,590.6 77.9,591.6 78.5,592.4 79.2,593 80,593.5 80.9,593.8 81.3,576.4 81.6,565.3 82.1,556.2 82.4,553.1 82.7,551 83.2,560.8 83.8,568.9 84.5,575 84.8,577.5 85.2,579.5 85.6,581 86,582.5 86.5,583.8 87,584.7 87.6,585.5 88.2,586 89,586.5 90,586.8 90.3,570.6 90.7,560.3 91.2,551.9 91.5,549 91.8,547 92.3,556.4 92.9,564 93.5,569.8 93.9,572.1 94.3,574 94.6,575.5 95.1,576.9 95.6,578.1 96.1,578.9 96.7,579.7 97.3,580.2 98.1,580.6 99.1,580.9 99.4,565.9 99.8,556.3 100.3,548.5 100.6,545.8 100.9,544 101.4,552.7 101.9,559 102.5,564.2 103.1,568.1 103.5,569.7 103.9,571.2 104.4,572.3 104.8,573.2 105.4,574 106,574.6 106.6,575.1 107.4,575.4 108.1,575.6 108.5,561.1 108.9,551.9 109.4,544.4 109.7,541.8 109.9,540 110.4,547.5 110.9,553.9 111.5,559.2 112.1,562.8 112.7,565.6 113.1,566.8 113.5,567.8 113.9,568.6 114.5,569.3 115,569.9 115.7,570.3 116.4,570.6 117.2,570.8 117.6,556.7 117.9,547.7 118.4,540.4 118.7,537.9 119,536.1 119.4,542.3 119.8,547.3 120.2,551.9 120.6,555.4 121.1,558.5 121.6,560.7 122.2,562.5 122.9,564.1 123.6,564.9 124.3,565.6 125.2,566 126.3,566.4 126.6,552.8 127,544.2 127.5,537.1 127.8,534.7 128.1,533 128.6,541.1 129.2,547.7 129.8,552.8 130.2,554.8 130.6,556.4 130.9,557.7 131.4,558.9 131.9,560 132.4,560.7 133,561.3 133.6,561.8 134.4,562.2 135.4,562.4 135.7,548.4 136.1,539.5 136.6,532.2 136.9,529.7 137.2,528 137.7,536.5 138.3,543.4 138.9,548.7 139.3,550.8 139.6,552.5 140,553.8 140.4,555.1 141,556.2 141.5,557 142,557.6 142.7,558.1 143.5,558.5 144.4,558.8 144.8,544 145.2,534.6 145.7,526.9 146,524.2 146.2,522.4 146.8,533.2 147.3,538.6 147.7,541.4 148,543.1 148.4,544.8 148.9,546.4 149.5,547.8 150.2,549 151.3,550.4 152.5,551.7 153.6,552.6 154.7,553.4 156.3,554.3 157.9,555.1 160.3,556 162.7,556.7 165.8,557.4 169.5,558.1 173.1,558.7 177.5,559.3 188.4,560.4 196.3,561 203.6,561.3 221.8,561.7 237,561.9" fill="none" stroke="#3fa862" stroke-width="2.1" stroke-linejoin="round" />
<path d="M55.5,620 v-3.5 M91.8,620 v-3.5 M128.1,620 v-3.5 M164.4,620 v-3.5 M200.7,620 v-3.5 M237,620 v-3.5 M73.65,620 v-2 M109.95,620 v-2 M146.25,620 v-2 M182.55,620 v-2 M218.85,620 v-2 M55.5,584 h3.5 M55.5,528 h3.5 M55.5,472 h3.5 M55.5,612 h2 M55.5,556 h2 M55.5,500 h2" stroke="#2e2e2e" stroke-width="1.1" fill="none"/>
<rect x="55.5" y="472" width="181.5" height="148" fill="none" stroke="#2e2e2e" stroke-width="1.4"/>
<g font-family='"Liberation Sans", Arial, sans-serif' font-weight="bold" font-size="11.5" fill="#111" stroke="#111" stroke-width="0.3">
<text x="55.5" y="633" text-anchor="middle">0</text>
<text x="91.8" y="633" text-anchor="middle">100</text>
<text x="128.1" y="633" text-anchor="middle">200</text>
<text x="164.4" y="633" text-anchor="middle">300</text>
<text x="200.7" y="633" text-anchor="middle">400</text>
<text x="237" y="633" text-anchor="middle">500</text>
<text x="52.4" y="587.34" text-anchor="end">8</text>
<text x="52.4" y="531.34" text-anchor="end">10</text>
<text x="52.4" y="475.33" text-anchor="end">12</text>
</g>
<text x="146.25" y="653.8" text-anchor="middle" font-family='"Liberation Sans", Arial, sans-serif' font-weight="bold" font-size="13.5" fill="#111" stroke="#111" stroke-width="0.3">Time (s)</text>
<text transform="translate(24.2,546) rotate(-90)" text-anchor="middle" font-family='"Liberation Sans", Arial, sans-serif' font-weight="bold" font-size="13.5" fill="#111" stroke="#111" stroke-width="0.3">I<tspan font-size="9.45" dy="3.5">D</tspan><tspan dy="-3.5"> (nA)</tspan></text>
<g font-family='"Liberation Sans", Arial, sans-serif' font-weight="bold" font-size="9" fill="#111" stroke="#111" stroke-width="0.2">
<path d="M182,487.5 H200" stroke="#3d3d3d" stroke-width="1.9"/>
<text transform="translate(203.3,490.7) scale(0.89,1)">5s</text>
<path d="M182,497.75 H200" stroke="#cf2035" stroke-width="1.9"/>
<text transform="translate(203.3,500.95) scale(0.89,1)">10s</text>
<path d="M182,508 H200" stroke="#2f63d0" stroke-width="1.9"/>
<text transform="translate(203.3,511.2) scale(0.89,1)">15s</text>
<path d="M182,518.25 H200" stroke="#3fa862" stroke-width="1.9"/>
<text transform="translate(203.3,521.45) scale(0.89,1)">20s</text>
</g>
<path d="M326.5,613.6 335.6,613.6 336,598 336.3,591.8 336.6,587.2 337,583.7 337.4,580.7 338,577 339,572.7 341,565.6 343.5,555.2 344.7,551 345.8,547.6 347.4,543.2 348.8,539.8 350.4,536 352.6,531.2 354.9,526.8 357.6,522 360.1,518.1 361.7,515.8 363.5,513.4 368.8,506.7 375.3,497.9 381,490.6 381.7,499.1 381.9,500.6 382.3,502.8 382.8,505 383.3,506.6 383.8,507.5 384.8,508.8 385.8,509.8 386.9,510.7 388.7,511.6 390.8,512.5 392.8,513.2 395.1,513.8 402.2,515.5 407.2,516.5 411.5,517.1 419.4,517.9 424.6,518.2 508.2,518.2" fill="none" stroke="#6a1fe0" stroke-width="2.0" stroke-linejoin="round" />
<path d="M326.5,613.6 335.6,613.6 336,609.2 336.5,606.5 336.9,605.2 337.3,603.9 337.7,603 338.3,602.1 339,601.1 339.9,600.1 341,599.1 342.6,597.8 344.2,596.6 345.8,595.5 347.4,594.5 349.2,593.5 352.2,592.1 356.5,590.5 360.6,589.1 364.4,588 368.3,587.2 372.8,586.4 377.2,585.8 381,585.5 381.5,588.7 381.9,590.5 382.5,592.4 383.1,594.1 384,595.7 385.2,597.6 386.5,599.2 387.8,600.7 390.1,602.7 392.8,605 394.9,606.4 396.9,607.7 398.5,608.5 400.3,609.1 403.5,610 406.7,610.8 409.9,611.3 412.8,611.7 419.9,612.2 425.6,612.4 452.8,612.4 473.3,612.3 491.4,612 508.2,611.7" fill="none" stroke="#c01a1a" stroke-width="2.0" stroke-linejoin="round" />
<path d="M326.5,613.6 335.6,613.6 336,607.1 336.4,603.1 336.7,601.4 337.1,599.7 337.5,598.4 338,597.3 338.8,595.9 339.7,594.6 340.6,593.5 342.4,591.5 344.2,589.7 345.8,588.2 347.6,586.7 349.2,585.5 351.7,584 355.4,582.2 359.2,580.6 363.3,579.2 367.6,578 372.4,577 376.9,576.2 381,575.7 381.5,581.1 381.8,584.1 382.2,586.5 382.8,589 383.4,591.1 384.2,593 385.3,595.2 386.5,597.1 388.1,599.2 390.3,601.6 392.8,604 395.3,606 397.2,607.2 399,608.1 401.5,609.1 404.4,610 408.3,611 411.9,611.6 419.2,612.3 422.1,612.5 424.9,612.6 449.6,612.6 472.4,612.5 491.2,612.4 508.2,612.2" fill="none" stroke="#7de03c" stroke-width="2.0" stroke-linejoin="round" />
<path d="M326.5,613.6 335.6,613.6 336,605.1 336.4,600.3 336.6,598.2 337,596.5 337.4,594.9 337.8,593.7 338.5,592.1 339.2,591 339.9,590.1 341.5,588.3 343.3,586.3 345.1,584.5 346.9,582.8 348.5,581.5 350.1,580.4 351.5,579.5 355.4,577.4 357.6,576.3 359.9,575.4 361.9,574.6 364,573.9 366,573.2 367.8,572.8 372.4,571.9 377.2,571.3 379.2,571.1 381,571 381.4,576.9 381.8,580.5 382,582 382.4,583.9 383,585.7 385.4,591.2 386.7,593.9 388.1,596.4 389.4,598.3 391.2,600.4 393.3,602.4 395.3,604.1 397.2,605.3 398.7,606.2 400.8,607 403.5,607.9 405.6,608.5 407.6,609 409.7,609.4 411.7,609.7 419.2,610.4 422.1,610.6 424.9,610.7 449.6,610.7 472.4,610.7 491.2,610.5 508.2,610.3" fill="none" stroke="#0c14cc" stroke-width="2.0" stroke-linejoin="round" />
<path d="M326.5,622 v-3.5 M371.94,622 v-3.5 M417.38,622 v-3.5 M462.81,622 v-3.5 M508.25,622 v-3.5 M349.22,622 v-2 M394.66,622 v-2 M440.09,622 v-2 M485.53,622 v-2 M326.5,610.75 h3.5 M326.5,564 h3.5 M326.5,517.25 h3.5 M326.5,470.5 h3.5 M326.5,587.38 h2 M326.5,540.62 h2 M326.5,493.88 h2" stroke="#2e2e2e" stroke-width="1.1" fill="none"/>
<rect x="326.5" y="470.5" width="181.75" height="151.5" fill="none" stroke="#2e2e2e" stroke-width="1.4"/>
<g font-family='"Liberation Sans", Arial, sans-serif' font-weight="bold" font-size="11.5" fill="#111" stroke="#111" stroke-width="0.3">
<text x="326.5" y="635" text-anchor="middle">0</text>
<text x="371.94" y="635" text-anchor="middle">100</text>
<text x="417.38" y="635" text-anchor="middle">200</text>
<text x="462.81" y="635" text-anchor="middle">300</text>
<text x="508.25" y="635" text-anchor="middle">400</text>
<text x="323.7" y="614.09" text-anchor="end">7</text>
<text x="323.7" y="567.34" text-anchor="end">8</text>
<text x="323.7" y="520.59" text-anchor="end">9</text>
<text x="323.7" y="473.83" text-anchor="end">10</text>
</g>
<text x="417.38" y="654.25" text-anchor="middle" font-family='"Liberation Sans", Arial, sans-serif' font-weight="bold" font-size="13.1" fill="#111" stroke="#111" stroke-width="0.3">Time (s)</text>
<text transform="translate(297.7,541.05) rotate(-90)" text-anchor="middle" font-family='"Liberation Sans", Arial, sans-serif' font-weight="bold" font-size="13.1" fill="#111" stroke="#111" stroke-width="0.3">I<tspan font-size="9.17" dy="3.5">D</tspan><tspan dy="-3.5"> (nA)</tspan></text>
<g font-family='"Liberation Sans", Arial, sans-serif' font-weight="bold" font-size="9" fill="#111" stroke="#111" stroke-width="0.2">
<path d="M432.5,543.25 H450" stroke="#6a1fe0" stroke-width="2"/>
<text transform="translate(452,546.45) scale(0.89,1)">375nm</text>
<path d="M432.5,553.58 H450" stroke="#0c14cc" stroke-width="2"/>
<text transform="translate(452,556.78) scale(0.89,1)">450nm</text>
<path d="M432.5,563.91 H450" stroke="#7de03c" stroke-width="2"/>
<text transform="translate(452,567.11) scale(0.89,1)">532nm</text>
<path d="M432.5,574.24 H450" stroke="#c01a1a" stroke-width="2"/>
<text transform="translate(452,577.44) scale(0.89,1)">650nm</text>
</g>
<text x="0.9" y="17.7" font-family='"Liberation Serif", "Times New Roman", serif' font-size="21.7" fill="#111" stroke="#111" stroke-width="0.25">(a)</text>
<text x="269.5" y="16.5" font-family='"Liberation Serif", "Times New Roman", serif' font-size="21.7" fill="#111" stroke="#111" stroke-width="0.25">(b)</text>
<text x="0.9" y="226.4" font-family='"Liberation Serif", "Times New Roman", serif' font-size="21.7" fill="#111" stroke="#111" stroke-width="0.25">(c)</text>
<text x="269.5" y="222" font-family='"Liberation Serif", "Times New Roman", serif' font-size="21.7" fill="#111" stroke="#111" stroke-width="0.25">(d)</text>
<text x="0.9" y="445.7" font-family='"Liberation Serif", "Times New Roman", serif' font-size="21.7" fill="#111" stroke="#111" stroke-width="0.25">(e)</text>
<text x="270.9" y="445" font-family='"Liberation Serif", "Times New Roman", serif' font-size="21.7" fill="#111" stroke="#111" stroke-width="0.25">(f)</text>
</svg>
</body></html>
